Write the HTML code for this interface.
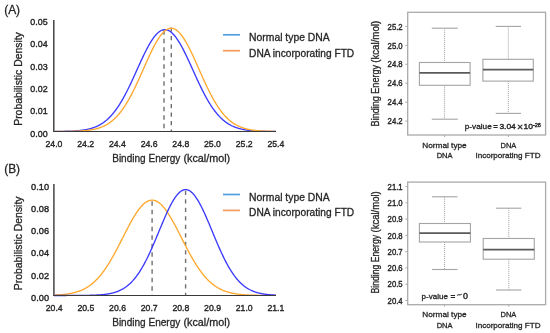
<!DOCTYPE html>
<html><head><meta charset="utf-8"><style>
html,body{margin:0;padding:0;background:#fff;}
svg{display:block;will-change:transform;}
text{font-family:"Liberation Sans",sans-serif;}
</style></head><body>
<svg width="550" height="333" viewBox="0 0 550 333">
<rect width="550" height="333" fill="#fff"/>
<text x="4.20" y="14.40" font-size="12.6" text-anchor="start" fill="#262626" stroke="#262626" stroke-width="0.3" textLength="15.90" lengthAdjust="spacingAndGlyphs" >(A)</text>
<text x="47.60" y="24.80" font-size="9.7" text-anchor="end" fill="#262626" stroke="#262626" stroke-width="0.4" textLength="17.30" lengthAdjust="spacingAndGlyphs" >0.05</text>
<text x="47.60" y="47.22" font-size="9.7" text-anchor="end" fill="#262626" stroke="#262626" stroke-width="0.4" textLength="17.30" lengthAdjust="spacingAndGlyphs" >0.04</text>
<text x="47.60" y="69.64" font-size="9.7" text-anchor="end" fill="#262626" stroke="#262626" stroke-width="0.4" textLength="17.30" lengthAdjust="spacingAndGlyphs" >0.03</text>
<text x="47.60" y="92.06" font-size="9.7" text-anchor="end" fill="#262626" stroke="#262626" stroke-width="0.4" textLength="17.30" lengthAdjust="spacingAndGlyphs" >0.02</text>
<text x="47.60" y="114.48" font-size="9.7" text-anchor="end" fill="#262626" stroke="#262626" stroke-width="0.4" textLength="17.30" lengthAdjust="spacingAndGlyphs" >0.01</text>
<text x="47.60" y="136.90" font-size="9.7" text-anchor="end" fill="#262626" stroke="#262626" stroke-width="0.4" textLength="17.30" lengthAdjust="spacingAndGlyphs" >0.00</text>
<text x="54.00" y="146.50" font-size="9.8" text-anchor="middle" fill="#262626" stroke="#262626" stroke-width="0.4" textLength="16.90" lengthAdjust="spacingAndGlyphs" >24.0</text>
<text x="85.70" y="146.50" font-size="9.8" text-anchor="middle" fill="#262626" stroke="#262626" stroke-width="0.4" textLength="16.90" lengthAdjust="spacingAndGlyphs" >24.2</text>
<text x="117.40" y="146.50" font-size="9.8" text-anchor="middle" fill="#262626" stroke="#262626" stroke-width="0.4" textLength="16.90" lengthAdjust="spacingAndGlyphs" >24.4</text>
<text x="149.10" y="146.50" font-size="9.8" text-anchor="middle" fill="#262626" stroke="#262626" stroke-width="0.4" textLength="16.90" lengthAdjust="spacingAndGlyphs" >24.6</text>
<text x="180.80" y="146.50" font-size="9.8" text-anchor="middle" fill="#262626" stroke="#262626" stroke-width="0.4" textLength="16.90" lengthAdjust="spacingAndGlyphs" >24.8</text>
<text x="212.50" y="146.50" font-size="9.8" text-anchor="middle" fill="#262626" stroke="#262626" stroke-width="0.4" textLength="16.90" lengthAdjust="spacingAndGlyphs" >25.0</text>
<text x="244.20" y="146.50" font-size="9.8" text-anchor="middle" fill="#262626" stroke="#262626" stroke-width="0.4" textLength="16.90" lengthAdjust="spacingAndGlyphs" >25.2</text>
<text x="275.90" y="146.50" font-size="9.8" text-anchor="middle" fill="#262626" stroke="#262626" stroke-width="0.4" textLength="16.90" lengthAdjust="spacingAndGlyphs" >25.4</text>
<text x="112.20" y="161.50" font-size="11.0" text-anchor="start" fill="#262626" stroke="#262626" stroke-width="0.3" textLength="68.10" lengthAdjust="spacingAndGlyphs" >Binding Energy</text>
<text x="183.40" y="161.50" font-size="11.0" text-anchor="start" fill="#262626" stroke="#262626" stroke-width="0.3" textLength="46.80" lengthAdjust="spacingAndGlyphs" >(kcal/mol)</text>
<text transform="translate(21.70,125.80) rotate(-90)" font-size="10.2" fill="#262626" stroke="#262626" stroke-width="0.3" textLength="93.60" lengthAdjust="spacingAndGlyphs">Probabilistic Density</text>
<line x1="53.80" y1="20.00" x2="53.80" y2="132.00" stroke="#444" stroke-width="1.5"/>
<line x1="164.00" y1="30.25" x2="164.00" y2="131.45" stroke="#707070" stroke-width="1.4" stroke-dasharray="4.4 4.1"/>
<line x1="171.30" y1="27.45" x2="171.30" y2="131.45" stroke="#707070" stroke-width="1.4" stroke-dasharray="4.4 4.1"/>
<path d="M53.80,131.41 L54.30,131.41 L54.80,131.41 L55.30,131.41 L55.80,131.40 L56.30,131.40 L56.80,131.40 L57.30,131.39 L57.80,131.39 L58.30,131.38 L58.80,131.38 L59.30,131.37 L59.80,131.37 L60.30,131.36 L60.80,131.36 L61.30,131.35 L61.80,131.34 L62.30,131.34 L62.80,131.33 L63.30,131.32 L63.80,131.31 L64.30,131.30 L64.80,131.29 L65.30,131.28 L65.80,131.27 L66.30,131.26 L66.80,131.24 L67.30,131.23 L67.80,131.22 L68.30,131.20 L68.80,131.19 L69.30,131.17 L69.80,131.15 L70.30,131.13 L70.80,131.11 L71.30,131.09 L71.80,131.07 L72.30,131.05 L72.80,131.02 L73.30,130.99 L73.80,130.97 L74.30,130.94 L74.80,130.91 L75.30,130.87 L75.80,130.84 L76.30,130.80 L76.80,130.77 L77.30,130.73 L77.80,130.68 L78.30,130.64 L78.80,130.59 L79.30,130.55 L79.80,130.49 L80.30,130.44 L80.80,130.38 L81.30,130.33 L81.80,130.26 L82.30,130.20 L82.80,130.13 L83.30,130.06 L83.80,129.98 L84.30,129.90 L84.80,129.82 L85.30,129.74 L85.80,129.65 L86.30,129.55 L86.80,129.45 L87.30,129.35 L87.80,129.24 L88.30,129.13 L88.80,129.02 L89.30,128.89 L89.80,128.77 L90.30,128.63 L90.80,128.50 L91.30,128.35 L91.80,128.20 L92.30,128.04 L92.80,127.88 L93.30,127.71 L93.80,127.54 L94.30,127.35 L94.80,127.16 L95.30,126.97 L95.80,126.76 L96.30,126.55 L96.80,126.33 L97.30,126.10 L97.80,125.86 L98.30,125.62 L98.80,125.36 L99.30,125.10 L99.80,124.82 L100.30,124.54 L100.80,124.25 L101.30,123.95 L101.80,123.63 L102.30,123.31 L102.80,122.98 L103.30,122.63 L103.80,122.28 L104.30,121.91 L104.80,121.53 L105.30,121.14 L105.80,120.74 L106.30,120.32 L106.80,119.90 L107.30,119.46 L107.80,119.01 L108.30,118.54 L108.80,118.06 L109.30,117.57 L109.80,117.07 L110.30,116.55 L110.80,116.02 L111.30,115.48 L111.80,114.92 L112.30,114.34 L112.80,113.76 L113.30,113.16 L113.80,112.54 L114.30,111.91 L114.80,111.26 L115.30,110.61 L115.80,109.93 L116.30,109.24 L116.80,108.54 L117.30,107.82 L117.80,107.09 L118.30,106.34 L118.80,105.58 L119.30,104.81 L119.80,104.02 L120.30,103.21 L120.80,102.39 L121.30,101.56 L121.80,100.71 L122.30,99.85 L122.80,98.98 L123.30,98.09 L123.80,97.19 L124.30,96.27 L124.80,95.35 L125.30,94.41 L125.80,93.45 L126.30,92.49 L126.80,91.52 L127.30,90.53 L127.80,89.53 L128.30,88.52 L128.80,87.51 L129.30,86.48 L129.80,85.44 L130.30,84.40 L130.80,83.34 L131.30,82.28 L131.80,81.21 L132.30,80.14 L132.80,79.06 L133.30,77.97 L133.80,76.88 L134.30,75.78 L134.80,74.68 L135.30,73.58 L135.80,72.47 L136.30,71.37 L136.80,70.26 L137.30,69.15 L137.80,68.04 L138.30,66.94 L138.80,65.83 L139.30,64.73 L139.80,63.63 L140.30,62.53 L140.80,61.44 L141.30,60.36 L141.80,59.28 L142.30,58.21 L142.80,57.15 L143.30,56.09 L143.80,55.05 L144.30,54.01 L144.80,52.99 L145.30,51.98 L145.80,50.98 L146.30,50.00 L146.80,49.03 L147.30,48.08 L147.80,47.14 L148.30,46.22 L148.80,45.32 L149.30,44.43 L149.80,43.57 L150.30,42.72 L150.80,41.90 L151.30,41.09 L151.80,40.31 L152.30,39.55 L152.80,38.82 L153.30,38.11 L153.80,37.42 L154.30,36.76 L154.80,36.13 L155.30,35.52 L155.80,34.94 L156.30,34.39 L156.80,33.87 L157.30,33.37 L157.80,32.90 L158.30,32.47 L158.80,32.06 L159.30,31.69 L159.80,31.34 L160.30,31.03 L160.80,30.75 L161.30,30.50 L161.80,30.28 L162.30,30.09 L162.80,29.94 L163.30,29.82 L163.80,29.73 L164.30,29.67 L164.80,29.65 L165.30,29.66 L165.80,29.70 L166.30,29.78 L166.80,29.89 L167.30,30.03 L167.80,30.20 L168.30,30.41 L168.80,30.64 L169.30,30.91 L169.80,31.21 L170.30,31.55 L170.80,31.91 L171.30,32.30 L171.80,32.73 L172.30,33.18 L172.80,33.66 L173.30,34.18 L173.80,34.72 L174.30,35.29 L174.80,35.88 L175.30,36.51 L175.80,37.16 L176.30,37.83 L176.80,38.53 L177.30,39.26 L177.80,40.01 L178.30,40.78 L178.80,41.57 L179.30,42.39 L179.80,43.22 L180.30,44.08 L180.80,44.96 L181.30,45.86 L181.80,46.77 L182.30,47.70 L182.80,48.65 L183.30,49.61 L183.80,50.59 L184.30,51.58 L184.80,52.59 L185.30,53.60 L185.80,54.63 L186.30,55.67 L186.80,56.72 L187.30,57.78 L187.80,58.85 L188.30,59.93 L188.80,61.01 L189.30,62.10 L189.80,63.19 L190.30,64.29 L190.80,65.39 L191.30,66.49 L191.80,67.60 L192.30,68.71 L192.80,69.82 L193.30,70.92 L193.80,72.03 L194.30,73.14 L194.80,74.24 L195.30,75.34 L195.80,76.44 L196.30,77.53 L196.80,78.62 L197.30,79.71 L197.80,80.78 L198.30,81.86 L198.80,82.92 L199.30,83.98 L199.80,85.03 L200.30,86.07 L200.80,87.10 L201.30,88.12 L201.80,89.13 L202.30,90.13 L202.80,91.12 L203.30,92.10 L203.80,93.07 L204.30,94.03 L204.80,94.97 L205.30,95.90 L205.80,96.82 L206.30,97.73 L206.80,98.62 L207.30,99.50 L207.80,100.37 L208.30,101.22 L208.80,102.06 L209.30,102.88 L209.80,103.70 L210.30,104.49 L210.80,105.27 L211.30,106.04 L211.80,106.79 L212.30,107.53 L212.80,108.26 L213.30,108.96 L213.80,109.66 L214.30,110.34 L214.80,111.00 L215.30,111.65 L215.80,112.29 L216.30,112.91 L216.80,113.52 L217.30,114.11 L217.80,114.69 L218.30,115.25 L218.80,115.80 L219.30,116.34 L219.80,116.86 L220.30,117.37 L220.80,117.87 L221.30,118.35 L221.80,118.82 L222.30,119.28 L222.80,119.72 L223.30,120.15 L223.80,120.57 L224.30,120.98 L224.80,121.38 L225.30,121.76 L225.80,122.13 L226.30,122.49 L226.80,122.84 L227.30,123.18 L227.80,123.51 L228.30,123.82 L228.80,124.13 L229.30,124.43 L229.80,124.71 L230.30,124.99 L230.80,125.26 L231.30,125.52 L231.80,125.76 L232.30,126.01 L232.80,126.24 L233.30,126.46 L233.80,126.68 L234.30,126.89 L234.80,127.09 L235.30,127.28 L235.80,127.47 L236.30,127.64 L236.80,127.82 L237.30,127.98 L237.80,128.14 L238.30,128.29 L238.80,128.44 L239.30,128.58 L239.80,128.71 L240.30,128.84 L240.80,128.97 L241.30,129.09 L241.80,129.20 L242.30,129.31 L242.80,129.41 L243.30,129.51 L243.80,129.61 L244.30,129.70 L244.80,129.79 L245.30,129.87 L245.80,129.95 L246.30,130.03 L246.80,130.10 L247.30,130.17 L247.80,130.24 L248.30,130.30 L248.80,130.36 L249.30,130.42 L249.80,130.47 L250.30,130.53 L250.80,130.58 L251.30,130.62 L251.80,130.67 L252.30,130.71 L252.80,130.75 L253.30,130.79 L253.80,130.83 L254.30,130.86 L254.80,130.89 L255.30,130.93 L255.80,130.96 L256.30,130.98 L256.80,131.01 L257.30,131.04 L257.80,131.06 L258.30,131.08 L258.80,131.10 L259.30,131.12 L259.80,131.14 L260.30,131.16 L260.80,131.18 L261.30,131.20 L261.80,131.21 L262.30,131.23 L262.80,131.24 L263.30,131.25 L263.80,131.26 L264.30,131.28 L264.80,131.29 L265.30,131.30 L265.80,131.31 L266.30,131.32 L266.80,131.32 L267.30,131.33 L267.80,131.34 L268.30,131.35 L268.80,131.35 L269.30,131.36 L269.80,131.37 L270.30,131.37 L270.80,131.38 L271.30,131.38 L271.80,131.39 L272.30,131.39 L272.80,131.39 L273.30,131.40 L273.80,131.40 L274.30,131.40 L274.80,131.41 L275.30,131.41 L275.80,131.41" fill="none" stroke="#3b3bff" stroke-width="1.35" stroke-linejoin="round"/>
<path d="M53.80,131.44 L54.30,131.44 L54.80,131.44 L55.30,131.43 L55.80,131.43 L56.30,131.43 L56.80,131.43 L57.30,131.43 L57.80,131.43 L58.30,131.42 L58.80,131.42 L59.30,131.42 L59.80,131.42 L60.30,131.42 L60.80,131.41 L61.30,131.41 L61.80,131.41 L62.30,131.40 L62.80,131.40 L63.30,131.40 L63.80,131.39 L64.30,131.39 L64.80,131.39 L65.30,131.38 L65.80,131.38 L66.30,131.37 L66.80,131.37 L67.30,131.36 L67.80,131.35 L68.30,131.35 L68.80,131.34 L69.30,131.33 L69.80,131.32 L70.30,131.32 L70.80,131.31 L71.30,131.30 L71.80,131.29 L72.30,131.28 L72.80,131.26 L73.30,131.25 L73.80,131.24 L74.30,131.22 L74.80,131.21 L75.30,131.19 L75.80,131.18 L76.30,131.16 L76.80,131.14 L77.30,131.12 L77.80,131.10 L78.30,131.08 L78.80,131.06 L79.30,131.03 L79.80,131.01 L80.30,130.98 L80.80,130.95 L81.30,130.92 L81.80,130.89 L82.30,130.85 L82.80,130.82 L83.30,130.78 L83.80,130.74 L84.30,130.70 L84.80,130.66 L85.30,130.61 L85.80,130.56 L86.30,130.51 L86.80,130.46 L87.30,130.40 L87.80,130.35 L88.30,130.28 L88.80,130.22 L89.30,130.15 L89.80,130.08 L90.30,130.01 L90.80,129.93 L91.30,129.85 L91.80,129.76 L92.30,129.67 L92.80,129.58 L93.30,129.48 L93.80,129.38 L94.30,129.27 L94.80,129.16 L95.30,129.04 L95.80,128.92 L96.30,128.79 L96.80,128.66 L97.30,128.52 L97.80,128.38 L98.30,128.23 L98.80,128.07 L99.30,127.91 L99.80,127.74 L100.30,127.56 L100.80,127.38 L101.30,127.19 L101.80,126.99 L102.30,126.78 L102.80,126.57 L103.30,126.34 L103.80,126.11 L104.30,125.88 L104.80,125.63 L105.30,125.37 L105.80,125.10 L106.30,124.83 L106.80,124.54 L107.30,124.25 L107.80,123.94 L108.30,123.63 L108.80,123.30 L109.30,122.96 L109.80,122.62 L110.30,122.26 L110.80,121.88 L111.30,121.50 L111.80,121.11 L112.30,120.70 L112.80,120.28 L113.30,119.85 L113.80,119.40 L114.30,118.95 L114.80,118.48 L115.30,117.99 L115.80,117.49 L116.30,116.98 L116.80,116.46 L117.30,115.92 L117.80,115.36 L118.30,114.80 L118.80,114.21 L119.30,113.62 L119.80,113.01 L120.30,112.38 L120.80,111.74 L121.30,111.09 L121.80,110.41 L122.30,109.73 L122.80,109.03 L123.30,108.31 L123.80,107.58 L124.30,106.84 L124.80,106.08 L125.30,105.30 L125.80,104.51 L126.30,103.71 L126.80,102.89 L127.30,102.05 L127.80,101.20 L128.30,100.34 L128.80,99.46 L129.30,98.57 L129.80,97.66 L130.30,96.74 L130.80,95.81 L131.30,94.87 L131.80,93.91 L132.30,92.94 L132.80,91.95 L133.30,90.96 L133.80,89.95 L134.30,88.93 L134.80,87.91 L135.30,86.87 L135.80,85.82 L136.30,84.76 L136.80,83.69 L137.30,82.62 L137.80,81.53 L138.30,80.44 L138.80,79.35 L139.30,78.24 L139.80,77.13 L140.30,76.02 L140.80,74.90 L141.30,73.78 L141.80,72.65 L142.30,71.52 L142.80,70.39 L143.30,69.26 L143.80,68.13 L144.30,67.00 L144.80,65.87 L145.30,64.74 L145.80,63.62 L146.30,62.50 L146.80,61.38 L147.30,60.27 L147.80,59.17 L148.30,58.07 L148.80,56.98 L149.30,55.89 L149.80,54.82 L150.30,53.76 L150.80,52.70 L151.30,51.66 L151.80,50.64 L152.30,49.62 L152.80,48.62 L153.30,47.64 L153.80,46.67 L154.30,45.72 L154.80,44.78 L155.30,43.87 L155.80,42.97 L156.30,42.09 L156.80,41.24 L157.30,40.40 L157.80,39.59 L158.30,38.80 L158.80,38.03 L159.30,37.29 L159.80,36.58 L160.30,35.89 L160.80,35.22 L161.30,34.59 L161.80,33.98 L162.30,33.40 L162.80,32.84 L163.30,32.32 L163.80,31.83 L164.30,31.36 L164.80,30.93 L165.30,30.53 L165.80,30.16 L166.30,29.82 L166.80,29.52 L167.30,29.24 L167.80,29.00 L168.30,28.80 L168.80,28.62 L169.30,28.48 L169.80,28.37 L170.30,28.30 L170.80,28.26 L171.30,28.25 L171.80,28.28 L172.30,28.34 L172.80,28.43 L173.30,28.56 L173.80,28.72 L174.30,28.92 L174.80,29.14 L175.30,29.40 L175.80,29.70 L176.30,30.02 L176.80,30.38 L177.30,30.77 L177.80,31.19 L178.30,31.64 L178.80,32.12 L179.30,32.63 L179.80,33.17 L180.30,33.74 L180.80,34.34 L181.30,34.96 L181.80,35.62 L182.30,36.30 L182.80,37.00 L183.30,37.73 L183.80,38.49 L184.30,39.27 L184.80,40.07 L185.30,40.90 L185.80,41.75 L186.30,42.62 L186.80,43.50 L187.30,44.41 L187.80,45.34 L188.30,46.29 L188.80,47.25 L189.30,48.23 L189.80,49.22 L190.30,50.23 L190.80,51.25 L191.30,52.29 L191.80,53.33 L192.30,54.39 L192.80,55.46 L193.30,56.54 L193.80,57.63 L194.30,58.73 L194.80,59.83 L195.30,60.94 L195.80,62.05 L196.30,63.17 L196.80,64.29 L197.30,65.42 L197.80,66.55 L198.30,67.68 L198.80,68.81 L199.30,69.94 L199.80,71.07 L200.30,72.20 L200.80,73.33 L201.30,74.45 L201.80,75.57 L202.30,76.69 L202.80,77.80 L203.30,78.91 L203.80,80.01 L204.30,81.10 L204.80,82.19 L205.30,83.26 L205.80,84.33 L206.30,85.40 L206.80,86.45 L207.30,87.49 L207.80,88.52 L208.30,89.55 L208.80,90.56 L209.30,91.56 L209.80,92.55 L210.30,93.52 L210.80,94.48 L211.30,95.44 L211.80,96.37 L212.30,97.30 L212.80,98.21 L213.30,99.11 L213.80,99.99 L214.30,100.86 L214.80,101.71 L215.30,102.55 L215.80,103.38 L216.30,104.19 L216.80,104.99 L217.30,105.77 L217.80,106.54 L218.30,107.29 L218.80,108.02 L219.30,108.74 L219.80,109.45 L220.30,110.14 L220.80,110.82 L221.30,111.48 L221.80,112.13 L222.30,112.76 L222.80,113.38 L223.30,113.98 L223.80,114.57 L224.30,115.14 L224.80,115.70 L225.30,116.24 L225.80,116.77 L226.30,117.29 L226.80,117.79 L227.30,118.28 L227.80,118.76 L228.30,119.22 L228.80,119.67 L229.30,120.11 L229.80,120.53 L230.30,120.95 L230.80,121.35 L231.30,121.73 L231.80,122.11 L232.30,122.47 L232.80,122.83 L233.30,123.17 L233.80,123.50 L234.30,123.82 L234.80,124.13 L235.30,124.43 L235.80,124.72 L236.30,125.00 L236.80,125.27 L237.30,125.53 L237.80,125.78 L238.30,126.02 L238.80,126.25 L239.30,126.48 L239.80,126.70 L240.30,126.91 L240.80,127.11 L241.30,127.30 L241.80,127.49 L242.30,127.67 L242.80,127.84 L243.30,128.00 L243.80,128.16 L244.30,128.32 L244.80,128.46 L245.30,128.60 L245.80,128.74 L246.30,128.87 L246.80,128.99 L247.30,129.11 L247.80,129.22 L248.30,129.33 L248.80,129.44 L249.30,129.54 L249.80,129.63 L250.30,129.72 L250.80,129.81 L251.30,129.90 L251.80,129.97 L252.30,130.05 L252.80,130.12 L253.30,130.19 L253.80,130.26 L254.30,130.32 L254.80,130.38 L255.30,130.44 L255.80,130.49 L256.30,130.54 L256.80,130.59 L257.30,130.64 L257.80,130.68 L258.30,130.73 L258.80,130.77 L259.30,130.80 L259.80,130.84 L260.30,130.88 L260.80,130.91 L261.30,130.94 L261.80,130.97 L262.30,131.00 L262.80,131.02 L263.30,131.05 L263.80,131.07 L264.30,131.09 L264.80,131.11 L265.30,131.13 L265.80,131.15 L266.30,131.17 L266.80,131.19 L267.30,131.20 L267.80,131.22 L268.30,131.23 L268.80,131.25 L269.30,131.26 L269.80,131.27 L270.30,131.28 L270.80,131.29 L271.30,131.30 L271.80,131.31 L272.30,131.32 L272.80,131.33 L273.30,131.34 L273.80,131.34 L274.30,131.35 L274.80,131.36 L275.30,131.36 L275.80,131.37" fill="none" stroke="#ffa82e" stroke-width="1.35" stroke-linejoin="round"/>
<line x1="53.05" y1="131.50" x2="276.00" y2="131.50" stroke="#3a3a3a" stroke-width="1.1"/>
<line x1="223.0" y1="34.80" x2="240.0" y2="34.80" stroke="#52a0e2" stroke-width="1.7"/>
<line x1="223.0" y1="50.70" x2="240.0" y2="50.70" stroke="#f59a5a" stroke-width="1.7"/>
<text x="249.10" y="40.90" font-size="10.2" text-anchor="start" fill="#262626" stroke="#262626" stroke-width="0.3" textLength="80.60" lengthAdjust="spacingAndGlyphs" >Normal type DNA</text>
<text x="249.10" y="56.60" font-size="10.2" text-anchor="start" fill="#262626" stroke="#262626" stroke-width="0.3" textLength="105.10" lengthAdjust="spacingAndGlyphs" >DNA incorporating FTD</text>
<text x="4.20" y="172.80" font-size="12.6" text-anchor="start" fill="#262626" stroke="#262626" stroke-width="0.3" textLength="15.90" lengthAdjust="spacingAndGlyphs" >(B)</text>
<text x="49.00" y="189.65" font-size="9.7" text-anchor="end" fill="#262626" stroke="#262626" stroke-width="0.4" textLength="17.90" lengthAdjust="spacingAndGlyphs" >0.10</text>
<text x="49.00" y="211.91" font-size="9.7" text-anchor="end" fill="#262626" stroke="#262626" stroke-width="0.4" textLength="17.90" lengthAdjust="spacingAndGlyphs" >0.08</text>
<text x="49.00" y="234.17" font-size="9.7" text-anchor="end" fill="#262626" stroke="#262626" stroke-width="0.4" textLength="17.90" lengthAdjust="spacingAndGlyphs" >0.06</text>
<text x="49.00" y="256.43" font-size="9.7" text-anchor="end" fill="#262626" stroke="#262626" stroke-width="0.4" textLength="17.90" lengthAdjust="spacingAndGlyphs" >0.04</text>
<text x="49.00" y="278.69" font-size="9.7" text-anchor="end" fill="#262626" stroke="#262626" stroke-width="0.4" textLength="17.90" lengthAdjust="spacingAndGlyphs" >0.02</text>
<text x="49.00" y="300.95" font-size="9.7" text-anchor="end" fill="#262626" stroke="#262626" stroke-width="0.4" textLength="17.90" lengthAdjust="spacingAndGlyphs" >0.00</text>
<text x="54.20" y="310.50" font-size="9.8" text-anchor="middle" fill="#262626" stroke="#262626" stroke-width="0.4" textLength="16.90" lengthAdjust="spacingAndGlyphs" >20.4</text>
<text x="85.87" y="310.50" font-size="9.8" text-anchor="middle" fill="#262626" stroke="#262626" stroke-width="0.4" textLength="16.90" lengthAdjust="spacingAndGlyphs" >20.5</text>
<text x="117.54" y="310.50" font-size="9.8" text-anchor="middle" fill="#262626" stroke="#262626" stroke-width="0.4" textLength="16.90" lengthAdjust="spacingAndGlyphs" >20.6</text>
<text x="149.21" y="310.50" font-size="9.8" text-anchor="middle" fill="#262626" stroke="#262626" stroke-width="0.4" textLength="16.90" lengthAdjust="spacingAndGlyphs" >20.7</text>
<text x="180.88" y="310.50" font-size="9.8" text-anchor="middle" fill="#262626" stroke="#262626" stroke-width="0.4" textLength="16.90" lengthAdjust="spacingAndGlyphs" >20.8</text>
<text x="212.55" y="310.50" font-size="9.8" text-anchor="middle" fill="#262626" stroke="#262626" stroke-width="0.4" textLength="16.90" lengthAdjust="spacingAndGlyphs" >20.9</text>
<text x="244.22" y="310.50" font-size="9.8" text-anchor="middle" fill="#262626" stroke="#262626" stroke-width="0.4" textLength="16.90" lengthAdjust="spacingAndGlyphs" >21.0</text>
<text x="275.89" y="310.50" font-size="9.8" text-anchor="middle" fill="#262626" stroke="#262626" stroke-width="0.4" textLength="16.90" lengthAdjust="spacingAndGlyphs" >21.1</text>
<text x="112.20" y="326.20" font-size="11.0" text-anchor="start" fill="#262626" stroke="#262626" stroke-width="0.3" textLength="68.10" lengthAdjust="spacingAndGlyphs" >Binding Energy</text>
<text x="183.40" y="326.20" font-size="11.0" text-anchor="start" fill="#262626" stroke="#262626" stroke-width="0.3" textLength="46.80" lengthAdjust="spacingAndGlyphs" >(kcal/mol)</text>
<text transform="translate(21.70,290.20) rotate(-90)" font-size="10.2" fill="#262626" stroke="#262626" stroke-width="0.3" textLength="93.70" lengthAdjust="spacingAndGlyphs">Probabilistic Density</text>
<line x1="53.90" y1="183.90" x2="53.90" y2="296.00" stroke="#444" stroke-width="1.5"/>
<line x1="152.10" y1="201.25" x2="152.10" y2="295.45" stroke="#707070" stroke-width="1.4" stroke-dasharray="4.4 4.1"/>
<line x1="185.60" y1="190.65" x2="185.60" y2="295.45" stroke="#707070" stroke-width="1.4" stroke-dasharray="4.4 4.1"/>
<path d="M53.90,295.10 L54.40,295.08 L54.90,295.06 L55.40,295.04 L55.90,295.02 L56.40,294.99 L56.90,294.96 L57.40,294.94 L57.90,294.91 L58.40,294.88 L58.90,294.84 L59.40,294.81 L59.90,294.78 L60.40,294.74 L60.90,294.70 L61.40,294.66 L61.90,294.62 L62.40,294.57 L62.90,294.52 L63.40,294.47 L63.90,294.42 L64.40,294.37 L64.90,294.31 L65.40,294.25 L65.90,294.19 L66.40,294.13 L66.90,294.06 L67.40,293.99 L67.90,293.92 L68.40,293.84 L68.90,293.76 L69.40,293.68 L69.90,293.59 L70.40,293.50 L70.90,293.40 L71.40,293.30 L71.90,293.20 L72.40,293.09 L72.90,292.98 L73.40,292.87 L73.90,292.74 L74.40,292.62 L74.90,292.49 L75.40,292.35 L75.90,292.21 L76.40,292.06 L76.90,291.91 L77.40,291.75 L77.90,291.59 L78.40,291.42 L78.90,291.24 L79.40,291.06 L79.90,290.87 L80.40,290.68 L80.90,290.47 L81.40,290.26 L81.90,290.05 L82.40,289.82 L82.90,289.59 L83.40,289.35 L83.90,289.10 L84.40,288.85 L84.90,288.58 L85.40,288.31 L85.90,288.03 L86.40,287.74 L86.90,287.44 L87.40,287.13 L87.90,286.81 L88.40,286.48 L88.90,286.14 L89.40,285.80 L89.90,285.44 L90.40,285.07 L90.90,284.69 L91.40,284.30 L91.90,283.90 L92.40,283.49 L92.90,283.07 L93.40,282.64 L93.90,282.20 L94.40,281.74 L94.90,281.28 L95.40,280.80 L95.90,280.31 L96.40,279.81 L96.90,279.29 L97.40,278.77 L97.90,278.23 L98.40,277.68 L98.90,277.12 L99.40,276.54 L99.90,275.96 L100.40,275.36 L100.90,274.75 L101.40,274.12 L101.90,273.49 L102.40,272.84 L102.90,272.18 L103.40,271.51 L103.90,270.82 L104.40,270.12 L104.90,269.41 L105.40,268.69 L105.90,267.96 L106.40,267.21 L106.90,266.45 L107.40,265.69 L107.90,264.91 L108.40,264.11 L108.90,263.31 L109.40,262.50 L109.90,261.67 L110.40,260.84 L110.90,259.99 L111.40,259.13 L111.90,258.27 L112.40,257.39 L112.90,256.51 L113.40,255.61 L113.90,254.71 L114.40,253.80 L114.90,252.88 L115.40,251.96 L115.90,251.02 L116.40,250.08 L116.90,249.14 L117.40,248.19 L117.90,247.23 L118.40,246.27 L118.90,245.30 L119.40,244.33 L119.90,243.35 L120.40,242.37 L120.90,241.39 L121.40,240.41 L121.90,239.42 L122.40,238.44 L122.90,237.45 L123.40,236.46 L123.90,235.48 L124.40,234.49 L124.90,233.51 L125.40,232.53 L125.90,231.56 L126.40,230.58 L126.90,229.61 L127.40,228.65 L127.90,227.69 L128.40,226.74 L128.90,225.80 L129.40,224.86 L129.90,223.93 L130.40,223.01 L130.90,222.10 L131.40,221.20 L131.90,220.31 L132.40,219.43 L132.90,218.56 L133.40,217.71 L133.90,216.87 L134.40,216.04 L134.90,215.23 L135.40,214.44 L135.90,213.66 L136.40,212.89 L136.90,212.15 L137.40,211.42 L137.90,210.71 L138.40,210.02 L138.90,209.35 L139.40,208.69 L139.90,208.06 L140.40,207.45 L140.90,206.86 L141.40,206.30 L141.90,205.75 L142.40,205.23 L142.90,204.73 L143.40,204.26 L143.90,203.81 L144.40,203.38 L144.90,202.98 L145.40,202.61 L145.90,202.26 L146.40,201.94 L146.90,201.64 L147.40,201.37 L147.90,201.12 L148.40,200.91 L148.90,200.72 L149.40,200.55 L149.90,200.42 L150.40,200.31 L150.90,200.23 L151.40,200.18 L151.90,200.15 L152.40,200.15 L152.90,200.19 L153.40,200.24 L153.90,200.33 L154.40,200.44 L154.90,200.58 L155.40,200.75 L155.90,200.95 L156.40,201.17 L156.90,201.42 L157.40,201.70 L157.90,202.00 L158.40,202.33 L158.90,202.68 L159.40,203.06 L159.90,203.47 L160.40,203.90 L160.90,204.35 L161.40,204.83 L161.90,205.33 L162.40,205.86 L162.90,206.41 L163.40,206.98 L163.90,207.57 L164.40,208.19 L164.90,208.82 L165.40,209.48 L165.90,210.16 L166.40,210.85 L166.90,211.56 L167.40,212.30 L167.90,213.05 L168.40,213.81 L168.90,214.60 L169.40,215.39 L169.90,216.21 L170.40,217.04 L170.90,217.88 L171.40,218.74 L171.90,219.60 L172.40,220.49 L172.90,221.38 L173.40,222.28 L173.90,223.19 L174.40,224.11 L174.90,225.04 L175.40,225.98 L175.90,226.93 L176.40,227.88 L176.90,228.84 L177.40,229.81 L177.90,230.78 L178.40,231.75 L178.90,232.73 L179.40,233.71 L179.90,234.69 L180.40,235.68 L180.90,236.66 L181.40,237.65 L181.90,238.63 L182.40,239.62 L182.90,240.60 L183.40,241.59 L183.90,242.57 L184.40,243.55 L184.90,244.52 L185.40,245.49 L185.90,246.46 L186.40,247.42 L186.90,248.38 L187.40,249.33 L187.90,250.27 L188.40,251.21 L188.90,252.14 L189.40,253.07 L189.90,253.99 L190.40,254.89 L190.90,255.79 L191.40,256.69 L191.90,257.57 L192.40,258.44 L192.90,259.31 L193.40,260.16 L193.90,261.00 L194.40,261.84 L194.90,262.66 L195.40,263.47 L195.90,264.27 L196.40,265.06 L196.90,265.84 L197.40,266.61 L197.90,267.36 L198.40,268.11 L198.90,268.84 L199.40,269.56 L199.90,270.26 L200.40,270.96 L200.90,271.64 L201.40,272.31 L201.90,272.97 L202.40,273.62 L202.90,274.25 L203.40,274.87 L203.90,275.48 L204.40,276.08 L204.90,276.66 L205.40,277.23 L205.90,277.79 L206.40,278.34 L206.90,278.87 L207.40,279.40 L207.90,279.91 L208.40,280.41 L208.90,280.89 L209.40,281.37 L209.90,281.83 L210.40,282.29 L210.90,282.73 L211.40,283.16 L211.90,283.58 L212.40,283.98 L212.90,284.38 L213.40,284.77 L213.90,285.14 L214.40,285.51 L214.90,285.87 L215.40,286.21 L215.90,286.55 L216.40,286.87 L216.90,287.19 L217.40,287.50 L217.90,287.79 L218.40,288.08 L218.90,288.36 L219.40,288.64 L219.90,288.90 L220.40,289.15 L220.90,289.40 L221.40,289.64 L221.90,289.87 L222.40,290.09 L222.90,290.31 L223.40,290.52 L223.90,290.72 L224.40,290.91 L224.90,291.10 L225.40,291.28 L225.90,291.46 L226.40,291.62 L226.90,291.79 L227.40,291.94 L227.90,292.09 L228.40,292.24 L228.90,292.38 L229.40,292.51 L229.90,292.64 L230.40,292.77 L230.90,292.89 L231.40,293.00 L231.90,293.11 L232.40,293.22 L232.90,293.32 L233.40,293.42 L233.90,293.52 L234.40,293.61 L234.90,293.69 L235.40,293.78 L235.90,293.85 L236.40,293.93 L236.90,294.00 L237.40,294.07 L237.90,294.14 L238.40,294.20 L238.90,294.27 L239.40,294.32 L239.90,294.38 L240.40,294.43 L240.90,294.48 L241.40,294.53 L241.90,294.58 L242.40,294.62 L242.90,294.67 L243.40,294.71 L243.90,294.75 L244.40,294.78 L244.90,294.82 L245.40,294.85 L245.90,294.88 L246.40,294.91 L246.90,294.94 L247.40,294.97 L247.90,295.00 L248.40,295.02 L248.90,295.04 L249.40,295.07 L249.90,295.09 L250.40,295.11 L250.90,295.13 L251.40,295.14 L251.90,295.16 L252.40,295.18 L252.90,295.19 L253.40,295.21 L253.90,295.22 L254.40,295.24 L254.90,295.25 L255.40,295.26 L255.90,295.27 L256.40,295.28 L256.90,295.29 L257.40,295.30 L257.90,295.31 L258.40,295.32 L258.90,295.33 L259.40,295.33 L259.90,295.34 L260.40,295.35 L260.90,295.35 L261.40,295.36 L261.90,295.36 L262.40,295.37 L262.90,295.38 L263.40,295.38 L263.90,295.38 L264.40,295.39 L264.90,295.39 L265.40,295.40 L265.90,295.40 L266.40,295.40 L266.90,295.41 L267.40,295.41 L267.90,295.41 L268.40,295.41 L268.90,295.42 L269.40,295.42 L269.90,295.42 L270.40,295.42 L270.90,295.42 L271.40,295.43 L271.90,295.43 L272.40,295.43 L272.90,295.43 L273.40,295.43 L273.90,295.43 L274.40,295.43 L274.90,295.44 L275.40,295.44 L275.90,295.44" fill="none" stroke="#ffa82e" stroke-width="1.35" stroke-linejoin="round"/>
<path d="M53.90,295.45 L54.40,295.45 L54.90,295.45 L55.40,295.45 L55.90,295.45 L56.40,295.45 L56.90,295.45 L57.40,295.45 L57.90,295.45 L58.40,295.45 L58.90,295.45 L59.40,295.45 L59.90,295.45 L60.40,295.45 L60.90,295.45 L61.40,295.45 L61.90,295.45 L62.40,295.45 L62.90,295.45 L63.40,295.45 L63.90,295.45 L64.40,295.45 L64.90,295.45 L65.40,295.45 L65.90,295.45 L66.40,295.45 L66.90,295.44 L67.40,295.44 L67.90,295.44 L68.40,295.44 L68.90,295.44 L69.40,295.44 L69.90,295.44 L70.40,295.44 L70.90,295.44 L71.40,295.44 L71.90,295.44 L72.40,295.44 L72.90,295.44 L73.40,295.44 L73.90,295.43 L74.40,295.43 L74.90,295.43 L75.40,295.43 L75.90,295.43 L76.40,295.43 L76.90,295.42 L77.40,295.42 L77.90,295.42 L78.40,295.42 L78.90,295.42 L79.40,295.41 L79.90,295.41 L80.40,295.41 L80.90,295.40 L81.40,295.40 L81.90,295.40 L82.40,295.39 L82.90,295.39 L83.40,295.38 L83.90,295.38 L84.40,295.37 L84.90,295.37 L85.40,295.36 L85.90,295.36 L86.40,295.35 L86.90,295.34 L87.40,295.33 L87.90,295.33 L88.40,295.32 L88.90,295.31 L89.40,295.30 L89.90,295.29 L90.40,295.27 L90.90,295.26 L91.40,295.25 L91.90,295.24 L92.40,295.22 L92.90,295.21 L93.40,295.19 L93.90,295.17 L94.40,295.15 L94.90,295.13 L95.40,295.11 L95.90,295.09 L96.40,295.07 L96.90,295.04 L97.40,295.02 L97.90,294.99 L98.40,294.96 L98.90,294.93 L99.40,294.90 L99.90,294.86 L100.40,294.82 L100.90,294.79 L101.40,294.74 L101.90,294.70 L102.40,294.66 L102.90,294.61 L103.40,294.56 L103.90,294.50 L104.40,294.45 L104.90,294.39 L105.40,294.33 L105.90,294.26 L106.40,294.19 L106.90,294.12 L107.40,294.04 L107.90,293.97 L108.40,293.88 L108.90,293.79 L109.40,293.70 L109.90,293.61 L110.40,293.50 L110.90,293.40 L111.40,293.29 L111.90,293.17 L112.40,293.05 L112.90,292.92 L113.40,292.79 L113.90,292.65 L114.40,292.51 L114.90,292.36 L115.40,292.20 L115.90,292.03 L116.40,291.86 L116.90,291.68 L117.40,291.50 L117.90,291.30 L118.40,291.10 L118.90,290.89 L119.40,290.67 L119.90,290.44 L120.40,290.20 L120.90,289.96 L121.40,289.70 L121.90,289.44 L122.40,289.16 L122.90,288.87 L123.40,288.58 L123.90,288.27 L124.40,287.95 L124.90,287.62 L125.40,287.28 L125.90,286.93 L126.40,286.56 L126.90,286.18 L127.40,285.79 L127.90,285.39 L128.40,284.97 L128.90,284.54 L129.40,284.10 L129.90,283.64 L130.40,283.17 L130.90,282.68 L131.40,282.18 L131.90,281.66 L132.40,281.13 L132.90,280.59 L133.40,280.02 L133.90,279.45 L134.40,278.86 L134.90,278.25 L135.40,277.62 L135.90,276.98 L136.40,276.33 L136.90,275.65 L137.40,274.96 L137.90,274.26 L138.40,273.53 L138.90,272.79 L139.40,272.04 L139.90,271.27 L140.40,270.48 L140.90,269.67 L141.40,268.85 L141.90,268.01 L142.40,267.15 L142.90,266.28 L143.40,265.39 L143.90,264.49 L144.40,263.57 L144.90,262.63 L145.40,261.68 L145.90,260.71 L146.40,259.73 L146.90,258.73 L147.40,257.72 L147.90,256.70 L148.40,255.66 L148.90,254.61 L149.40,253.54 L149.90,252.46 L150.40,251.37 L150.90,250.27 L151.40,249.16 L151.90,248.03 L152.40,246.90 L152.90,245.75 L153.40,244.60 L153.90,243.44 L154.40,242.27 L154.90,241.10 L155.40,239.91 L155.90,238.72 L156.40,237.53 L156.90,236.33 L157.40,235.13 L157.90,233.93 L158.40,232.73 L158.90,231.52 L159.40,230.31 L159.90,229.11 L160.40,227.90 L160.90,226.70 L161.40,225.51 L161.90,224.31 L162.40,223.12 L162.90,221.94 L163.40,220.76 L163.90,219.60 L164.40,218.44 L164.90,217.29 L165.40,216.15 L165.90,215.03 L166.40,213.91 L166.90,212.81 L167.40,211.73 L167.90,210.66 L168.40,209.61 L168.90,208.57 L169.40,207.56 L169.90,206.56 L170.40,205.59 L170.90,204.63 L171.40,203.70 L171.90,202.79 L172.40,201.91 L172.90,201.05 L173.40,200.21 L173.90,199.41 L174.40,198.62 L174.90,197.87 L175.40,197.15 L175.90,196.46 L176.40,195.79 L176.90,195.16 L177.40,194.56 L177.90,193.99 L178.40,193.46 L178.90,192.95 L179.40,192.49 L179.90,192.05 L180.40,191.65 L180.90,191.29 L181.40,190.96 L181.90,190.67 L182.40,190.41 L182.90,190.19 L183.40,190.01 L183.90,189.87 L184.40,189.76 L184.90,189.69 L185.40,189.65 L185.90,189.66 L186.40,189.70 L186.90,189.78 L187.40,189.89 L187.90,190.04 L188.40,190.23 L188.90,190.46 L189.40,190.72 L189.90,191.02 L190.40,191.36 L190.90,191.73 L191.40,192.14 L191.90,192.58 L192.40,193.05 L192.90,193.56 L193.40,194.10 L193.90,194.68 L194.40,195.28 L194.90,195.92 L195.40,196.59 L195.90,197.29 L196.40,198.02 L196.90,198.78 L197.40,199.56 L197.90,200.38 L198.40,201.22 L198.90,202.08 L199.40,202.97 L199.90,203.89 L200.40,204.82 L200.90,205.78 L201.40,206.76 L201.90,207.76 L202.40,208.78 L202.90,209.82 L203.40,210.87 L203.90,211.95 L204.40,213.03 L204.90,214.14 L205.40,215.25 L205.90,216.38 L206.40,217.52 L206.90,218.67 L207.40,219.83 L207.90,221.00 L208.40,222.18 L208.90,223.36 L209.40,224.55 L209.90,225.74 L210.40,226.94 L210.90,228.15 L211.40,229.35 L211.90,230.56 L212.40,231.76 L212.90,232.97 L213.40,234.17 L213.90,235.37 L214.40,236.57 L214.90,237.77 L215.40,238.96 L215.90,240.15 L216.40,241.33 L216.90,242.51 L217.40,243.67 L217.90,244.83 L218.40,245.98 L218.90,247.12 L219.40,248.26 L219.90,249.38 L220.40,250.49 L220.90,251.59 L221.40,252.68 L221.90,253.75 L222.40,254.82 L222.90,255.87 L223.40,256.90 L223.90,257.93 L224.40,258.93 L224.90,259.93 L225.40,260.91 L225.90,261.87 L226.40,262.82 L226.90,263.75 L227.40,264.67 L227.90,265.57 L228.40,266.46 L228.90,267.33 L229.40,268.18 L229.90,269.01 L230.40,269.83 L230.90,270.64 L231.40,271.42 L231.90,272.19 L232.40,272.94 L232.90,273.68 L233.40,274.40 L233.90,275.10 L234.40,275.79 L234.90,276.46 L235.40,277.11 L235.90,277.75 L236.40,278.37 L236.90,278.97 L237.40,279.56 L237.90,280.14 L238.40,280.70 L238.90,281.24 L239.40,281.77 L239.90,282.28 L240.40,282.78 L240.90,283.26 L241.40,283.73 L241.90,284.19 L242.40,284.63 L242.90,285.05 L243.40,285.47 L243.90,285.87 L244.40,286.26 L244.90,286.63 L245.40,287.00 L245.90,287.35 L246.40,287.69 L246.90,288.02 L247.40,288.33 L247.90,288.64 L248.40,288.93 L248.90,289.22 L249.40,289.49 L249.90,289.75 L250.40,290.01 L250.90,290.25 L251.40,290.49 L251.90,290.71 L252.40,290.93 L252.90,291.14 L253.40,291.34 L253.90,291.53 L254.40,291.72 L254.90,291.90 L255.40,292.07 L255.90,292.23 L256.40,292.39 L256.90,292.54 L257.40,292.68 L257.90,292.82 L258.40,292.95 L258.90,293.08 L259.40,293.20 L259.90,293.31 L260.40,293.42 L260.90,293.53 L261.40,293.63 L261.90,293.72 L262.40,293.81 L262.90,293.90 L263.40,293.98 L263.90,294.06 L264.40,294.14 L264.90,294.21 L265.40,294.27 L265.90,294.34 L266.40,294.40 L266.90,294.46 L267.40,294.51 L267.90,294.57 L268.40,294.62 L268.90,294.66 L269.40,294.71 L269.90,294.75 L270.40,294.79 L270.90,294.83 L271.40,294.87 L271.90,294.90 L272.40,294.93 L272.90,294.97 L273.40,294.99 L273.90,295.02 L274.40,295.05 L274.90,295.07 L275.40,295.10 L275.90,295.12" fill="none" stroke="#3b3bff" stroke-width="1.35" stroke-linejoin="round"/>
<line x1="53.15" y1="295.50" x2="276.00" y2="295.50" stroke="#3a3a3a" stroke-width="1.1"/>
<line x1="223.0" y1="194.50" x2="240.0" y2="194.50" stroke="#52a0e2" stroke-width="1.7"/>
<line x1="223.0" y1="210.40" x2="240.0" y2="210.40" stroke="#f59a5a" stroke-width="1.7"/>
<text x="249.10" y="200.60" font-size="10.2" text-anchor="start" fill="#262626" stroke="#262626" stroke-width="0.3" textLength="80.60" lengthAdjust="spacingAndGlyphs" >Normal type DNA</text>
<text x="249.10" y="216.30" font-size="10.2" text-anchor="start" fill="#262626" stroke="#262626" stroke-width="0.3" textLength="105.10" lengthAdjust="spacingAndGlyphs" >DNA incorporating FTD</text>
<rect x="407.7" y="12.3" width="137.90" height="122.70" fill="none" stroke="#aaaaaa" stroke-width="1.3"/>
<line x1="405.3" y1="26.40" x2="407.7" y2="26.40" stroke="#aaaaaa" stroke-width="1"/>
<text x="402.60" y="29.60" font-size="8.8" text-anchor="end" fill="#262626" stroke="#262626" stroke-width="0.4" textLength="15.00" lengthAdjust="spacingAndGlyphs" >25.2</text>
<line x1="405.3" y1="45.34" x2="407.7" y2="45.34" stroke="#aaaaaa" stroke-width="1"/>
<text x="402.60" y="48.54" font-size="8.8" text-anchor="end" fill="#262626" stroke="#262626" stroke-width="0.4" textLength="15.00" lengthAdjust="spacingAndGlyphs" >25.0</text>
<line x1="405.3" y1="64.28" x2="407.7" y2="64.28" stroke="#aaaaaa" stroke-width="1"/>
<text x="402.60" y="67.48" font-size="8.8" text-anchor="end" fill="#262626" stroke="#262626" stroke-width="0.4" textLength="15.00" lengthAdjust="spacingAndGlyphs" >24.8</text>
<line x1="405.3" y1="83.22" x2="407.7" y2="83.22" stroke="#aaaaaa" stroke-width="1"/>
<text x="402.60" y="86.42" font-size="8.8" text-anchor="end" fill="#262626" stroke="#262626" stroke-width="0.4" textLength="15.00" lengthAdjust="spacingAndGlyphs" >24.6</text>
<line x1="405.3" y1="102.16" x2="407.7" y2="102.16" stroke="#aaaaaa" stroke-width="1"/>
<text x="402.60" y="105.36" font-size="8.8" text-anchor="end" fill="#262626" stroke="#262626" stroke-width="0.4" textLength="15.00" lengthAdjust="spacingAndGlyphs" >24.4</text>
<line x1="405.3" y1="121.10" x2="407.7" y2="121.10" stroke="#aaaaaa" stroke-width="1"/>
<text x="402.60" y="124.30" font-size="8.8" text-anchor="end" fill="#262626" stroke="#262626" stroke-width="0.4" textLength="15.00" lengthAdjust="spacingAndGlyphs" >24.2</text>
<line x1="444.6" y1="28.2" x2="444.6" y2="62.5" stroke="#a0a0a0" stroke-width="1" stroke-dasharray="1 1"/>
<line x1="444.6" y1="85.3" x2="444.6" y2="119.2" stroke="#a0a0a0" stroke-width="1" stroke-dasharray="1 1"/>
<line x1="431.8" y1="28.2" x2="457.8" y2="28.2" stroke="#a4a4a4" stroke-width="1.1"/>
<line x1="431.8" y1="119.2" x2="457.8" y2="119.2" stroke="#a4a4a4" stroke-width="1.1"/>
<rect x="419.4" y="62.5" width="50.70" height="22.80" fill="none" stroke="#a4a4a4" stroke-width="1.1"/>
<line x1="419.4" y1="72.9" x2="470.1" y2="72.9" stroke="#5a5a5a" stroke-width="1.7"/>
<line x1="444.6" y1="135.0" x2="444.6" y2="137.0" stroke="#aaaaaa" stroke-width="1"/>
<line x1="508.3" y1="26.4" x2="508.3" y2="59.3" stroke="#a0a0a0" stroke-width="1" stroke-dasharray="1 1"/>
<line x1="508.3" y1="81.1" x2="508.3" y2="113.4" stroke="#a0a0a0" stroke-width="1" stroke-dasharray="1 1"/>
<line x1="495.7" y1="26.4" x2="521.0" y2="26.4" stroke="#a4a4a4" stroke-width="1.1"/>
<line x1="495.7" y1="113.4" x2="521.0" y2="113.4" stroke="#a4a4a4" stroke-width="1.1"/>
<rect x="482.9" y="59.3" width="50.40" height="21.80" fill="none" stroke="#a4a4a4" stroke-width="1.1"/>
<line x1="482.9" y1="69.6" x2="533.3" y2="69.6" stroke="#5a5a5a" stroke-width="1.7"/>
<line x1="508.3" y1="135.0" x2="508.3" y2="137.0" stroke="#aaaaaa" stroke-width="1"/>
<text x="444.50" y="147.50" font-size="8.0" text-anchor="middle" fill="#262626" stroke="#262626" stroke-width="0.3" textLength="44.30" lengthAdjust="spacingAndGlyphs" >Normal type</text>
<text x="444.60" y="157.90" font-size="8.0" text-anchor="middle" fill="#262626" stroke="#262626" stroke-width="0.3" textLength="15.90" lengthAdjust="spacingAndGlyphs" >DNA</text>
<text x="508.40" y="147.50" font-size="8.0" text-anchor="middle" fill="#262626" stroke="#262626" stroke-width="0.3" textLength="15.80" lengthAdjust="spacingAndGlyphs" >DNA</text>
<text x="508.20" y="157.90" font-size="8.0" text-anchor="middle" fill="#262626" stroke="#262626" stroke-width="0.3" textLength="64.70" lengthAdjust="spacingAndGlyphs" >incorporating FTD</text>
<text transform="translate(379.30,126.40) rotate(-90)" font-size="10.3" fill="#262626" stroke="#262626" stroke-width="0.3" textLength="61.40" lengthAdjust="spacingAndGlyphs">Binding Energy</text>
<text transform="translate(379.30,62.80) rotate(-90)" font-size="10.3" fill="#262626" stroke="#262626" stroke-width="0.3" textLength="42.00" lengthAdjust="spacingAndGlyphs">(kcal/mol)</text>
<text x="464.80" y="129.00" font-size="7.9" text-anchor="start" fill="#262626" stroke="#262626" stroke-width="0.3" textLength="26.90" lengthAdjust="spacingAndGlyphs" >p-value</text>
<text x="493.30" y="129.00" font-size="7.9" text-anchor="start" fill="#262626" stroke="#262626" stroke-width="0.3" textLength="4.60" lengthAdjust="spacingAndGlyphs" >=</text>
<text x="499.40" y="129.00" font-size="7.9" text-anchor="start" fill="#262626" stroke="#262626" stroke-width="0.4" textLength="16.40" lengthAdjust="spacingAndGlyphs" >3.04</text>
<text x="517.40" y="129.00" font-size="7.9" text-anchor="start" fill="#262626" stroke="#262626" stroke-width="0.3" textLength="5.20" lengthAdjust="spacingAndGlyphs" >x</text>
<text x="523.50" y="129.00" font-size="7.9" text-anchor="start" fill="#262626" stroke="#262626" stroke-width="0.4" textLength="9.40" lengthAdjust="spacingAndGlyphs" >10</text>
<text x="532.90" y="126.80" font-size="5.6" text-anchor="start" fill="#262626" stroke="#262626" stroke-width="0.4" textLength="8.00" lengthAdjust="spacingAndGlyphs" >-26</text>
<rect x="407.7" y="182.1" width="137.90" height="122.60" fill="none" stroke="#aaaaaa" stroke-width="1.3"/>
<line x1="405.3" y1="186.60" x2="407.7" y2="186.60" stroke="#aaaaaa" stroke-width="1"/>
<text x="402.60" y="189.80" font-size="8.8" text-anchor="end" fill="#262626" stroke="#262626" stroke-width="0.4" textLength="15.00" lengthAdjust="spacingAndGlyphs" >21.1</text>
<line x1="405.3" y1="202.87" x2="407.7" y2="202.87" stroke="#aaaaaa" stroke-width="1"/>
<text x="402.60" y="206.07" font-size="8.8" text-anchor="end" fill="#262626" stroke="#262626" stroke-width="0.4" textLength="15.00" lengthAdjust="spacingAndGlyphs" >21.0</text>
<line x1="405.3" y1="219.14" x2="407.7" y2="219.14" stroke="#aaaaaa" stroke-width="1"/>
<text x="402.60" y="222.34" font-size="8.8" text-anchor="end" fill="#262626" stroke="#262626" stroke-width="0.4" textLength="15.00" lengthAdjust="spacingAndGlyphs" >20.9</text>
<line x1="405.3" y1="235.41" x2="407.7" y2="235.41" stroke="#aaaaaa" stroke-width="1"/>
<text x="402.60" y="238.61" font-size="8.8" text-anchor="end" fill="#262626" stroke="#262626" stroke-width="0.4" textLength="15.00" lengthAdjust="spacingAndGlyphs" >20.8</text>
<line x1="405.3" y1="251.68" x2="407.7" y2="251.68" stroke="#aaaaaa" stroke-width="1"/>
<text x="402.60" y="254.88" font-size="8.8" text-anchor="end" fill="#262626" stroke="#262626" stroke-width="0.4" textLength="15.00" lengthAdjust="spacingAndGlyphs" >20.7</text>
<line x1="405.3" y1="267.95" x2="407.7" y2="267.95" stroke="#aaaaaa" stroke-width="1"/>
<text x="402.60" y="271.15" font-size="8.8" text-anchor="end" fill="#262626" stroke="#262626" stroke-width="0.4" textLength="15.00" lengthAdjust="spacingAndGlyphs" >20.6</text>
<line x1="405.3" y1="284.22" x2="407.7" y2="284.22" stroke="#aaaaaa" stroke-width="1"/>
<text x="402.60" y="287.42" font-size="8.8" text-anchor="end" fill="#262626" stroke="#262626" stroke-width="0.4" textLength="15.00" lengthAdjust="spacingAndGlyphs" >20.5</text>
<line x1="405.3" y1="300.49" x2="407.7" y2="300.49" stroke="#aaaaaa" stroke-width="1"/>
<text x="402.60" y="303.69" font-size="8.8" text-anchor="end" fill="#262626" stroke="#262626" stroke-width="0.4" textLength="15.00" lengthAdjust="spacingAndGlyphs" >20.4</text>
<line x1="444.6" y1="196.8" x2="444.6" y2="223.5" stroke="#a0a0a0" stroke-width="1" stroke-dasharray="1 1"/>
<line x1="444.6" y1="242.0" x2="444.6" y2="269.5" stroke="#a0a0a0" stroke-width="1" stroke-dasharray="1 1"/>
<line x1="431.9" y1="196.8" x2="457.5" y2="196.8" stroke="#a4a4a4" stroke-width="1.1"/>
<line x1="431.9" y1="269.5" x2="457.5" y2="269.5" stroke="#a4a4a4" stroke-width="1.1"/>
<rect x="419.4" y="223.5" width="51.00" height="18.50" fill="none" stroke="#a4a4a4" stroke-width="1.1"/>
<line x1="419.4" y1="233.2" x2="470.4" y2="233.2" stroke="#5a5a5a" stroke-width="1.7"/>
<line x1="444.6" y1="304.7" x2="444.6" y2="306.7" stroke="#aaaaaa" stroke-width="1"/>
<line x1="508.8" y1="208.2" x2="508.8" y2="238.5" stroke="#a0a0a0" stroke-width="1" stroke-dasharray="1 1"/>
<line x1="508.8" y1="259.2" x2="508.8" y2="290.0" stroke="#a0a0a0" stroke-width="1" stroke-dasharray="1 1"/>
<line x1="496.0" y1="208.2" x2="521.4" y2="208.2" stroke="#a4a4a4" stroke-width="1.1"/>
<line x1="496.0" y1="290.0" x2="521.4" y2="290.0" stroke="#a4a4a4" stroke-width="1.1"/>
<rect x="483.2" y="238.5" width="51.10" height="20.70" fill="none" stroke="#a4a4a4" stroke-width="1.1"/>
<line x1="483.2" y1="249.6" x2="534.3" y2="249.6" stroke="#5a5a5a" stroke-width="1.7"/>
<line x1="508.8" y1="304.7" x2="508.8" y2="306.7" stroke="#aaaaaa" stroke-width="1"/>
<text x="444.50" y="317.20" font-size="8.0" text-anchor="middle" fill="#262626" stroke="#262626" stroke-width="0.3" textLength="44.30" lengthAdjust="spacingAndGlyphs" >Normal type</text>
<text x="444.60" y="328.10" font-size="8.0" text-anchor="middle" fill="#262626" stroke="#262626" stroke-width="0.3" textLength="15.90" lengthAdjust="spacingAndGlyphs" >DNA</text>
<text x="508.40" y="317.20" font-size="8.0" text-anchor="middle" fill="#262626" stroke="#262626" stroke-width="0.3" textLength="15.80" lengthAdjust="spacingAndGlyphs" >DNA</text>
<text x="508.20" y="328.10" font-size="8.0" text-anchor="middle" fill="#262626" stroke="#262626" stroke-width="0.3" textLength="64.70" lengthAdjust="spacingAndGlyphs" >incorporating FTD</text>
<text transform="translate(379.30,293.40) rotate(-90)" font-size="10.3" fill="#262626" stroke="#262626" stroke-width="0.3" textLength="58.50" lengthAdjust="spacingAndGlyphs">Binding Energy</text>
<text transform="translate(379.30,232.50) rotate(-90)" font-size="10.3" fill="#262626" stroke="#262626" stroke-width="0.3" textLength="41.20" lengthAdjust="spacingAndGlyphs">(kcal/mol)</text>
<text x="421.60" y="298.70" font-size="7.9" text-anchor="start" fill="#262626" stroke="#262626" stroke-width="0.3" textLength="26.30" lengthAdjust="spacingAndGlyphs" >p-value</text>
<text x="450.40" y="298.70" font-size="7.9" text-anchor="start" fill="#262626" stroke="#262626" stroke-width="0.3" textLength="4.80" lengthAdjust="spacingAndGlyphs" >=</text>
<path d="M457.2,295.4 C458.2,293.4 459.9,296.2 461.7,294.0" fill="none" stroke="#3a3a3a" stroke-width="1.05"/>
<text x="463.10" y="298.90" font-size="8.3" text-anchor="start" fill="#262626" stroke="#262626" stroke-width="0.4" textLength="4.90" lengthAdjust="spacingAndGlyphs" >0</text>
</svg>
</body></html>
